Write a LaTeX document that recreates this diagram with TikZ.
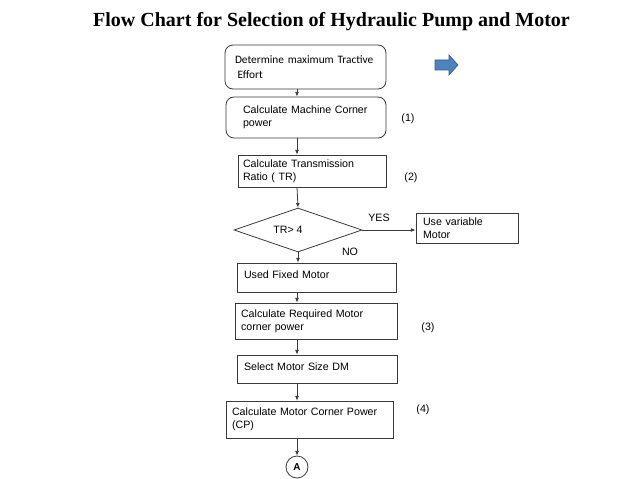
\documentclass[tikz,border=0pt]{standalone}
\usepackage{fontspec}
\setmainfont{Liberation Sans}
\newfontfamily\titlefont{Liberation Serif}
\newfontfamily\califont{Carlito}
\usetikzlibrary{positioning, shapes.geometric, arrows.meta}
\definecolor{boxline}{HTML}{3A3A3A}
\definecolor{arrowblue}{HTML}{4F81BD}
\definecolor{arrowedge}{HTML}{385D8A}

\begin{document}
\begin{tikzpicture}[x=0.75pt, y=-0.75pt,
every node/.style = {font=\fontsize{8}{9.75}\selectfont, text=black},
        box/.style = {rectangle, draw=boxline, line width=0.6pt, inner sep=0pt, align=left},
       rbox/.style = {box, rounded corners=6pt},
       dbox/.style = {diamond, draw=boxline, line width=0.6pt, inner sep=0pt},
       conn/.style = {draw=boxline, line width=0.6pt, -{Latex[length=3.5pt,width=3pt]}}
                        ]
\useasboundingbox (0,0) rectangle (638,478);
\node (title) [font=\titlefont\bfseries\fontsize{15}{18}\selectfont] at (331.5,22) {Flow Chart for Selection of Hydraulic Pump and Motor};
\node (effort) [rbox, minimum width=120.75pt, minimum height=33pt, text width=105.75pt, font=\califont\fontsize{8.5}{11.25}\selectfont] at (305.5,67) {Determine maximum Tractive\\\hspace{2pt}Effort};
\node (machine) [rbox, minimum width=120pt, minimum height=30.75pt, text width=94.5pt] at (306,117.5) {Calculate Machine Corner\\power};
\node (trans) [box, minimum width=111pt, minimum height=24pt, text width=103.5pt] at (312,171) {Calculate Transmission\\Ratio ( TR)};
\node (tr) [dbox, minimum width=96pt, minimum height=33pt, label={[xshift=-7.5pt]center:TR> 4}] at (298,230) {};
\node (var) [box, minimum width=76.5pt, minimum height=22.5pt, text width=66pt] at (467,228) {Use variable\\Motor};
\node (fixed) [box, minimum width=119.25pt, minimum height=21.75pt, text width=108.75pt, text depth=4.5pt] at (316.5,277.5) {Used Fixed Motor};
\node (req) [box, minimum width=121.5pt, minimum height=27pt, text width=112.5pt] at (316,321) {Calculate Required Motor\\corner power};
\node (size) [box, minimum width=120pt, minimum height=21pt, text width=109.5pt, text depth=3.5pt] at (317,369) {Select Motor Size DM};
\node (cp) [box, minimum width=125.25pt, minimum height=27.75pt, text width=116.25pt] at (309.5,419.5) {Calculate Motor Corner Power\\(CP)};
\node (conA) [circle, draw=boxline, line width=0.6pt, minimum size=16.5pt, inner sep=0pt, font=\bfseries\fontsize{7.5}{9}\selectfont] at (297,467) {A};
% step numbers and branch labels
\node (n1) at (408,119) {(1)};
\node (n2) at (411,178) {(2)};
\node (n3) at (428,328) {(3)};
\node (n4) at (423,410) {(4)};
\node (yes) at (379,218) {YES};
\node (no) at (350,252) {NO};
\coordinate (axis) at (297,0);
\draw[conn] (axis |- effort.south) -- (axis |- machine.north);
\draw[conn] (axis |- machine.south) -- (axis |- trans.north);
\draw[conn] (axis |- trans.south) -- (tr.north);
\draw[conn] (tr.east) -- (tr.east -| var.west);
\draw[conn] (tr.south) -- (tr.south |- fixed.north);
\draw[conn] (axis |- fixed.south) -- (axis |- req.north);
\draw[conn] (axis |- req.south) -- (axis |- size.north);
\draw[conn] (axis |- size.south) -- (axis |- cp.north);
\draw[conn] (axis |- cp.south) -- (conA);
% blue arrow
\draw[arrowedge, fill=arrowblue, line width=0.5pt] (435,60) -- (449,60) -- (449,55) -- (458,65) -- (449,75) -- (449,70) -- (435,70) -- cycle;
\end{tikzpicture}
\end{document}
